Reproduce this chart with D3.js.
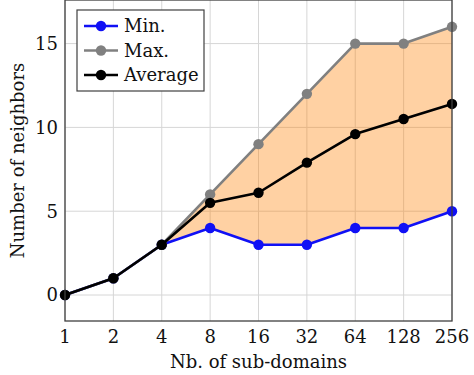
<!DOCTYPE html>
<html>
<head>
<meta charset="utf-8">
<script src="https://cdn.jsdelivr.net/npm/d3@7"></script>
<style>
  body { margin: 0; background: #fff; }
  svg { display: block; }
  svg text { font-family: 'DejaVu Serif', serif; }
</style>
</head>
<body>
<div id="chart"></div>
<script>
const subDomains = [1, 2, 4, 8, 16, 32, 64, 128, 256]
const minValues = [0, 1, 3, 4, 3, 3, 4, 4, 5]
const maxValues = [0, 1, 3, 6, 9, 12, 15, 15, 16]
const avgValues = [0, 1, 3, 5.5, 6.1, 7.9, 9.6, 10.5, 11.4]
const yTicks = [0, 5, 10, 15]

const width = 474, height = 375
const plotLeft = 65, plotRight = 452, plotTop = 0, plotBottom = 321
const fontSize = 18

const x = d3.scaleLog().base(2).domain([1, 256]).range([plotLeft, plotRight])
const y = d3.scaleLinear().domain([-1.55, 17.6]).range([plotBottom, plotTop])

const svg = d3.select('#chart').append('svg')
  .attr('width', width)
  .attr('height', height)

// grid
svg.append('g').selectAll('line').data(subDomains).join('line')
  .attr('x1', d => x(d)).attr('x2', d => x(d))
  .attr('y1', plotTop).attr('y2', plotBottom)
  .attr('stroke', '#d6d6d6').attr('stroke-width', 1)
svg.append('g').selectAll('line').data(yTicks).join('line')
  .attr('x1', plotLeft).attr('x2', plotRight)
  .attr('y1', d => y(d)).attr('y2', d => y(d))
  .attr('stroke', '#d6d6d6').attr('stroke-width', 1)

// area between min and max
const area = d3.area()
  .x((d, i) => x(subDomains[i]))
  .y0((d, i) => y(minValues[i]))
  .y1(d => y(d))
svg.append('path')
  .datum(maxValues)
  .attr('d', area)
  .attr('fill', 'rgb(255,128,0)')
  .attr('fill-opacity', 0.36)

const series = [
  { name: 'Min.', values: minValues, color: '#1010f5' },
  { name: 'Max.', values: maxValues, color: '#808080' },
  { name: 'Average', values: avgValues, color: '#000000' }
]

const line = d3.line().x((d, i) => x(subDomains[i])).y(d => y(d))

series.forEach(s => {
  const g = svg.append('g')
  g.append('path')
    .datum(s.values)
    .attr('d', line)
    .attr('fill', 'none')
    .attr('stroke', s.color)
    .attr('stroke-width', 2.6)
    .attr('stroke-linejoin', 'round')
  g.selectAll('circle').data(s.values).join('circle')
    .attr('cx', (d, i) => x(subDomains[i]))
    .attr('cy', d => y(d))
    .attr('r', 5.2)
    .attr('fill', s.color)
})

// frame
svg.append('rect')
  .attr('x', plotLeft).attr('y', plotTop)
  .attr('width', plotRight - plotLeft).attr('height', plotBottom - plotTop)
  .attr('fill', 'none')
  .attr('stroke', '#404040')
  .attr('stroke-width', 1.3)

// tick labels
svg.append('g').selectAll('text').data(subDomains).join('text')
  .attr('x', d => x(d))
  .attr('y', 343)
  .attr('text-anchor', 'middle')
  .attr('font-size', fontSize)
  .attr('fill', '#111')
  .text(d => d)
svg.append('g').selectAll('text').data(yTicks).join('text')
  .attr('x', 58)
  .attr('y', d => y(d))
  .attr('dy', '0.35em')
  .attr('text-anchor', 'end')
  .attr('font-size', fontSize)
  .attr('fill', '#111')
  .text(d => d)

// axis titles
svg.append('text')
  .attr('x', (plotLeft + plotRight) / 2)
  .attr('y', 368)
  .attr('text-anchor', 'middle')
  .attr('font-size', fontSize)
  .attr('fill', '#111')
  .text('Nb. of sub-domains')
svg.append('text')
  .attr('transform', `translate(24,${(plotTop + plotBottom) / 2}) rotate(-90)`)
  .attr('text-anchor', 'middle')
  .attr('font-size', fontSize)
  .attr('fill', '#111')
  .text('Number of neighbors')

// legend
const legend = svg.append('g')
legend.append('rect')
  .attr('x', 77).attr('y', 10)
  .attr('width', 127).attr('height', 81)
  .attr('fill', '#fff')
  .attr('stroke', '#404040')
  .attr('stroke-width', 1.2)
series.forEach((s, i) => {
  const cy = 26 + i * 24.5
  legend.append('line')
    .attr('x1', 84).attr('x2', 118)
    .attr('y1', cy).attr('y2', cy)
    .attr('stroke', s.color).attr('stroke-width', 2.6)
  legend.append('circle')
    .attr('cx', 101).attr('cy', cy).attr('r', 5.2)
    .attr('fill', s.color)
  legend.append('text')
    .attr('x', 124).attr('y', cy)
    .attr('dy', '0.35em')
    .attr('font-size', fontSize)
    .attr('fill', '#111')
    .text(s.name)
})
</script>
</body>
</html>
